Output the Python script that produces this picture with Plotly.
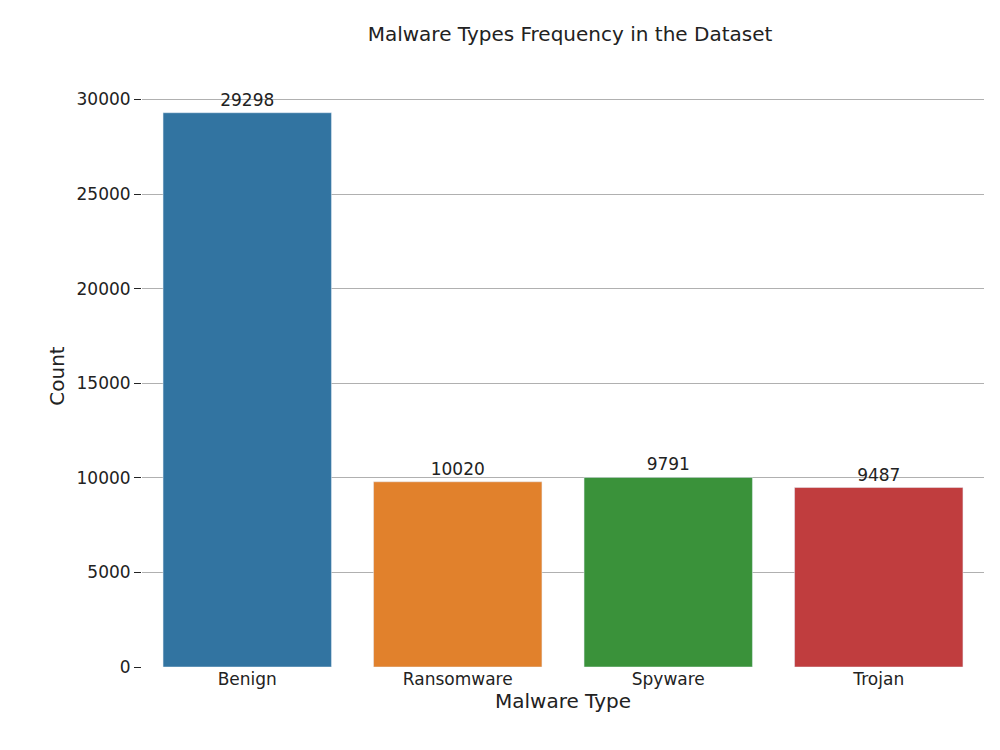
import plotly.graph_objects as go

categories = ["Benign", "Ransomware", "Spyware", "Trojan"]
counts = [29298, 9791, 10020, 9487]
labels = ["29298", "10020", "9791", "9487"]
colors = ["#3274a1", "#e1812c", "#3a923a", "#c03d3e"]

fig = go.Figure(go.Bar(
    x=categories, y=counts, marker_color=colors, width=0.8,
    text=labels, textposition="outside", cliponaxis=False,
    textfont=dict(size=17, color="#222"),
))
fig.update_layout(
    width=1000, height=750, paper_bgcolor="white", plot_bgcolor="white",
    margin=dict(l=134, r=24, t=77, b=91),
    font=dict(family="DejaVu Sans", size=17, color="#222"),
    title=dict(text="Malware Types Frequency in the Dataset", x=0.562, y=0.975,
               xanchor="center", font=dict(size=20)),
    showlegend=False, bargap=0.2,
)
fig.update_xaxes(title_text="Malware Type", showgrid=False, showline=False,
                 ticks="", title_standoff=4, tickfont=dict(size=17))
fig.update_yaxes(title_text="Count", range=[0, 30763], dtick=5000,
                 showgrid=True, gridcolor="#b0b0b0", zeroline=False,
                 showline=False, ticks="outside", ticklen=7, tickcolor="#222",
                 tickformat="d", title_standoff=6, tickfont=dict(size=17))
fig.write_html("out.html")
